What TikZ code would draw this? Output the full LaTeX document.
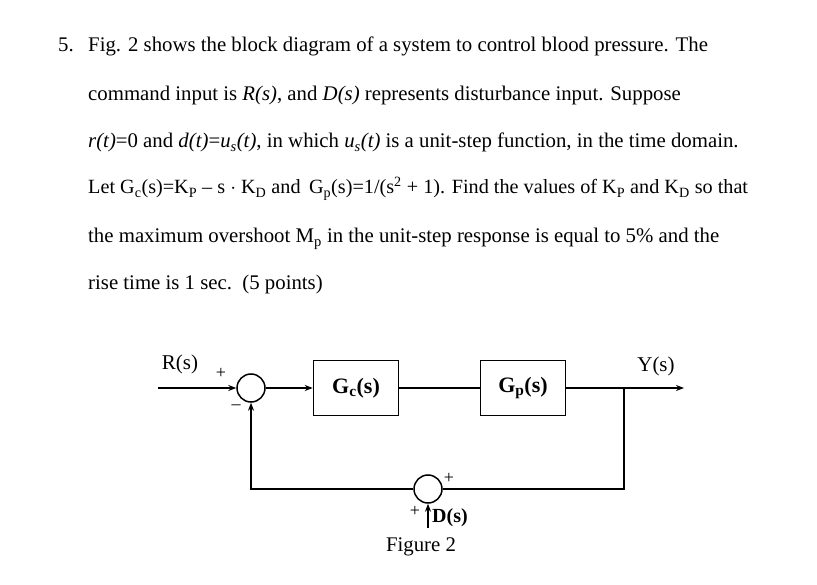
\documentclass[tikz,border=0pt]{standalone}
\usepackage{fontspec}
\setmainfont{Liberation Serif}
\usetikzlibrary{arrows.meta}
\begin{document}
\begin{tikzpicture}[x=1pt,y=-1pt,
  txt/.style={anchor=base west,inner sep=0,font=\fontsize{20.8}{22}\selectfont},
  blk/.style={draw,line width=1.5pt,minimum width=85pt,minimum height=55pt,font=\bfseries\fontsize{22}{24}\selectfont},
  sum/.style={draw,line width=1.5pt,circle,minimum size=28pt,inner sep=0},
  lbl/.style={font=\fontsize{21}{23}\selectfont,inner sep=0},
  pm/.style={font=\fontsize{18}{19}\selectfont,inner sep=0},
  ln/.style={line width=1.5pt},
  ar/.style={line width=1.5pt,-{Stealth[length=8pt,width=6pt]}}]
\useasboundingbox (0,0) rectangle (817,585);
\node[txt] (n5) at (58,52) {5.};
\node[txt] (l1) at (88,52) {Fig. 2 shows the block diagram of a system to control blood pressure. The};
\node[txt] (l2) at (88,101) {command input is \textit{R(s)}, and \textit{D(s)} represents disturbance input. Suppose};
\node[txt] (l3) at (88,148) {\textit{r(t)}=0 and \textit{d(t)}=\textit{u\textsubscript{s}(t)}, in which \textit{u\textsubscript{s}(t)} is a unit-step function, in the time domain.};
\node[txt,font=\fontsize{20.2}{22}\selectfont] (l4) at (88,194) {Let G\textsubscript{c}(s)=K\textsubscript{P} -- s $\cdot$ K\textsubscript{D} and\, G\textsubscript{p}(s)=1/(s\textsuperscript{2} + 1). Find the values of K\textsubscript{P} and K\textsubscript{D} so that};
\node[txt] (l5) at (88,243) {the maximum overshoot M\textsubscript{p} in the unit-step response is equal to 5\% and the};
\node[txt] (l6) at (88,290) {rise time is 1 sec.\ \ (5 points)};

\node[sum] (s1) at (251,388) {};
\node[blk] (gc) at (356,388) {G\textsubscript{c}(s)};
\node[blk] (gp) at (523,388) {G\textsubscript{p}(s)};
\node[sum] (s2) at (428,489) {};
\coordinate (in) at (158,388);
\coordinate (br) at (624,388);
\coordinate (out) at (684,388);
\coordinate (bl) at (251,489);
\coordinate (br2) at (624,489);
\coordinate (dst) at (428,528);
\draw[ar] (in) -- (s1);
\draw[ar] (s1) -- (gc);
\draw[ln] (gc) -- (gp);
\draw[ar] (gp) -- (out);
\draw[ln] (br) -- (br2) -- (s2);
\draw[ar] (s2) -- (bl) -- (s1);
\draw[ar] (dst) -- (s2);
\node[lbl] (R) at (180,364) {R(s)};
\node[lbl] (Y) at (656,366) {Y(s)};
\node[pm] (p1) at (221,373) {+};
\node[pm] (m1) at (236,407) {--};
\node[pm] (p2) at (449,478) {+};
\node[pm] (p3) at (415,511) {+};
\node[lbl,font=\bfseries\fontsize{20}{22}\selectfont,anchor=west] (D) at (432,518) {D(s)};
\node[lbl,font=\fontsize{20.8}{22}\selectfont] (F) at (421,547) {Figure 2};
\end{tikzpicture}
\end{document}
